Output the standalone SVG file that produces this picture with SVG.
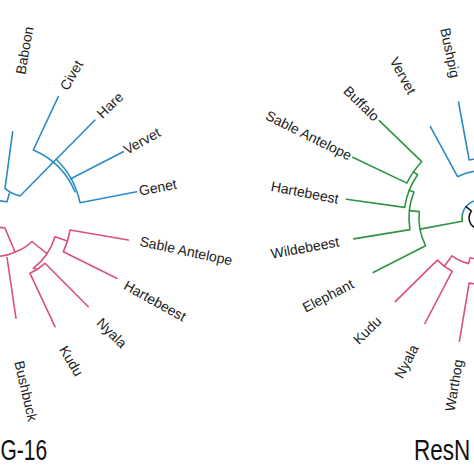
<svg xmlns="http://www.w3.org/2000/svg" width="474" height="474" viewBox="0 0 474 474">
<style>
.e{fill:none;stroke-width:1.6;stroke-linejoin:round;stroke-linecap:round}
.b{stroke:#2a8bc6}.p{stroke:#d9507f}.g{stroke:#2f9444}.k{stroke:#1a1a1a}
.l{font-family:"Liberation Sans",Arial,sans-serif;font-size:14px;fill:#222}
.ls{text-anchor:start}.le{text-anchor:end}
.t{font-family:"Liberation Sans",Arial,sans-serif;fill:#111}
</style>
<rect width="474" height="474" fill="#fff"/>
<g id="connectors">
<path class="e b" d="M12.7,131.7 L5,188.3 Q10,193 20,196 L95,120"/>
<path class="e b" d="M9.5,193 L7,201.7 L-3,200.5"/>
<path class="e b" d="M58.3,96.7 L33.3,150 A79,79 0 0 1 75,191.7"/>
<path class="e b" d="M56,159 A85,85 0 0 1 80,202.7 L136.7,191.7"/>
<path class="e b" d="M123.3,151.7 L70.8,178.8"/>
<path class="e p" d="M128.3,240 L70,230 A76,76 0 0 1 63.3,251.7 L116.7,278.3"/>
<path class="e p" d="M67.4,241 L55,236.7 A63,63 0 0 1 33.3,268.3"/>
<path class="e p" d="M88.3,306.7 L45,263.3 A66,66 0 0 1 30,273.3 L55,326.7"/>
<path class="e p" d="M36.5,269.5 L34,267.5"/>
<path class="e p" d="M46.7,253.3 L32,241.5 A43,43 0 0 1 15,252 A43,43 0 0 1 -3,256.5"/>
<path class="e p" d="M15,252 L5,228 L-3,227"/>
<path class="e p" d="M16,318.3 L7,257.5"/>
<path class="e g" d="M379.3,120.7 L421.7,161.7 A81,81 0 0 0 406.9,183.1 L352.7,157.3"/>
<path class="e g" d="M413.4,171.8 L417.6,174.7 A76,76 0 0 0 404.7,207.4 L346.3,199.2"/>
<path class="e g" d="M409.2,190.3 L413.9,192.1 A71,71 0 0 0 409.95,229.6 L353.7,238.9"/>
<path class="e g" d="M409.4,210.6 L419.3,211.6 A61,61 0 0 0 425.6,245.7 L373.1,272.5"/>
<path class="e g" d="M420,229.1 L462.3,221.3 A18,18 0 0 1 462.5,213.6"/>
<path class="e b" d="M462.5,213.6 A18,18 0 0 1 481.6,200.1"/>
<path class="e b" d="M430.4,126.6 L457.6,176.7 A47,47 0 0 1 484.1,171.2"/>
<path class="e b" d="M458.5,102 L469.2,160 A59,59 0 0 1 490.2,159.9"/>
<path class="e k" d="M466,206.7 L471.5,211.1 A11,11 0 0 0 476.2,228.3"/>
<path class="e p" d="M395.3,301.6 L437.3,260.1 A60,60 0 0 0 452.2,271.2 L424.9,323.5"/>
<path class="e p" d="M444.3,266.2 L452,255.8 A47,47 0 0 0 468.6,263.6 L470.1,257.8 A41,41 0 0 0 483.6,258.8"/>
<path class="e p" d="M459.4,341.3 L469.1,283.1 A66,66 0 0 0 491.5,283"/>
</g>
<g id="vgg-baboon"><text class="l ls" transform="translate(20.3,74.2) rotate(-80)" dy="0.35em">Baboon</text></g>
<g id="vgg-civet"><text class="l ls" transform="translate(63.5,89.1) rotate(-60)" dy="0.35em">Civet</text></g>
<g id="vgg-hare"><text class="l ls" transform="translate(99.1,115.7) rotate(-44.5)" dy="0.35em">Hare</text></g>
<g id="vgg-vervet"><text class="l ls" transform="translate(124.5,150.6) rotate(-29)" dy="0.35em">Vervet</text></g>
<g id="vgg-genet"><text class="l ls" transform="translate(139,191) rotate(-11)" dy="0.35em">Genet</text></g>
<g id="vgg-sable"><text class="l ls" transform="translate(140,241) rotate(12)" dy="0.35em">Sable Antelope</text></g>
<g id="vgg-hartebeest"><text class="l ls" transform="translate(125.1,284.3) rotate(29)" dy="0.35em">Hartebeest</text></g>
<g id="vgg-nyala"><text class="l ls" transform="translate(99.1,320.3) rotate(45)" dy="0.35em">Nyala</text></g>
<g id="vgg-kudu"><text class="l ls" transform="translate(63,346.9) rotate(59)" dy="0.35em">Kudu</text></g>
<g id="vgg-bushbuck"><text class="l ls" transform="translate(19,361) rotate(77)" dy="0.35em">Bushbuck</text></g>
<g id="res-buffalo"><text class="l le" transform="translate(377.1,118.7) rotate(44)" dy="0.35em">Buffalo</text></g>
<g id="res-sable"><text class="l le" transform="translate(350.9,156.4) rotate(26.5)" dy="0.35em">Sable Antelope</text></g>
<g id="res-hartebeest"><text class="l le" transform="translate(338.4,199) rotate(11)" dy="0.35em">Hartebeest</text></g>
<g id="res-wildebeest"><text class="l le" transform="translate(338.9,241.4) rotate(-10.5)" dy="0.35em">Wildebeest</text></g>
<g id="res-elephant"><text class="l le" transform="translate(352.6,282.9) rotate(-27.5)" dy="0.35em">Elephant</text></g>
<g id="res-kudu"><text class="l le" transform="translate(378.8,318.8) rotate(-44.6)" dy="0.35em">Kudu</text></g>
<g id="res-nyala"><text class="l le" transform="translate(414.7,345.5) rotate(-62.4)" dy="0.35em">Nyala</text></g>
<g id="res-warthog"><text class="l le" transform="translate(458.2,359.5) rotate(-80.5)" dy="0.35em">Warthog</text></g>
<g id="res-vervet"><text class="l le" transform="translate(412.5,93) rotate(61.5)" dy="0.35em">Vervet</text></g>
<g id="res-bushpig"><text class="l le" transform="translate(455.5,77.5) rotate(78)" dy="0.35em">Bushpig</text></g>
<g id="title-vgg"><text class="t" transform="translate(0.5,460) scale(1,1.4)" font-size="21">G-16</text></g>
<g id="title-resnet"><text class="t" transform="translate(414,460) scale(1,1.3)" font-size="22.5">ResN</text></g>
</svg>
